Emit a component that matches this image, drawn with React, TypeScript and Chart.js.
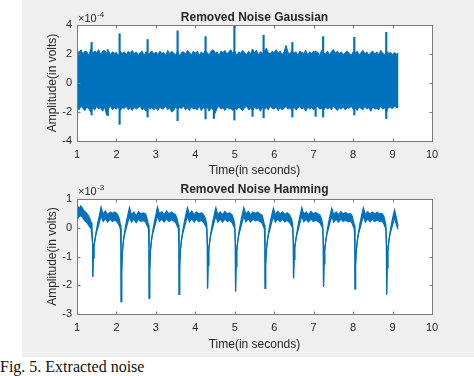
import React, { useEffect, useRef } from "react";
import { Chart, registerables } from "chart.js";

Chart.register(...registerables);

const BLUE = "#0072BD";
const FONT = '"Liberation Sans", Arial, Helvetica, sans-serif';
const TEXT = "#262626";

// ---------- axes ----------
const X_MIN = 1;
const X_MAX = 10;
const X_STEP = 1;
const G_Y_RANGE = [-4, 4]; // ×10^-4 V
const G_Y_STEP = 2;
const H_Y_RANGE = [-3, 1]; // ×10^-3 V
const H_Y_STEP = 1;

// ---------- Removed Noise Gaussian (×10^-4 V), envelope sampled every 0.05 s from 1.00 s ----------
const gUpper = [
  2.25, 2.1, 2.3, 2.0, 2.2, 2.15, 1.9, 2.35, 2.05, 2.2, 2.1, 2.3, 1.95, 2.2, 2.25, 2.05, 2.2, 1.95, 2.15, 2.05,
  2.1, 1.85, 2.2, 2.05, 2.15, 1.95, 2.2, 2.05, 2.25, 2.0, 2.15, 1.95, 2.1, 2.2, 1.9, 2.15, 1.9, 2.1, 2.2, 2.0,
  2.15, 1.95, 2.2, 2.05, 2.1, 1.9, 2.25, 2.0, 2.2, 2.05, 1.95, 2.2, 1.85, 2.1, 2.15, 2.0, 2.25, 2.1, 1.95, 2.2,
  2.05, 2.2, 1.9, 2.15, 2.0, 2.25, 2.1, 1.95, 2.2, 2.3, 2.05, 2.15, 1.9, 2.2, 2.1, 2.25, 2.0, 2.15, 2.3, 2.05,
  2.2, 1.9, 2.15, 2.05, 2.25, 2.1, 1.95, 2.2, 2.0, 2.3, 2.1, 2.25, 1.95, 2.15, 2.05, 2.2, 2.4, 2.1, 2.0, 2.2,
  2.1, 2.3, 2.05, 2.2, 1.95, 2.15, 2.6, 2.1, 2.0, 2.25, 2.05, 2.15, 1.9, 2.2, 2.1, 2.05, 2.25, 1.95, 2.15, 2.05,
  2.2, 2.0, 2.15, 1.9, 2.25, 2.1, 2.0, 2.2, 1.95, 2.15, 2.3, 2.05, 2.2, 2.0, 2.15, 1.95, 2.1, 2.2, 2.05, 1.9,
  2.15, 2.05, 2.2, 1.95, 2.1, 2.25, 2.0, 2.15, 1.9, 2.1, 2.2, 2.0, 2.15, 1.95, 2.25, 2.05, 1.95, 2.2, 2.05, 2.1,
  1.95, 2.1, 2.0, 2.05,
];
const gLower = [
  -1.7, -1.85, -1.6, -1.75, -1.9, -1.65, -1.8, -2.0, -1.7, -1.85, -1.6, -1.8, -1.7, -1.95, -1.65, -2.2, -1.75, -1.6, -1.85, -1.7,
  -1.8, -1.65, -1.9, -1.7, -1.75, -1.6, -1.85, -1.7, -1.9, -1.65, -1.8, -1.7, -1.6, -1.85, -1.75, -1.95, -1.65, -1.8, -1.7, -1.85,
  -1.7, -1.9, -1.65, -1.8, -1.75, -1.6, -1.85, -1.7, -2.0, -1.9, -1.65, -1.8, -1.7, -1.75, -1.6, -1.85, -1.7, -1.9, -1.65, -1.8,
  -1.75, -1.85, -1.6, -1.9, -1.7, -1.8, -1.65, -1.95, -1.7, -1.85, -2.1, -1.75, -1.6, -1.8, -1.7, -1.9, -1.65, -1.8, -1.75, -1.9,
  -1.7, -1.85, -1.65, -1.8, -1.9, -1.7, -1.6, -1.85, -1.75, -1.9, -1.65, -1.8, -1.7, -1.95, -1.65, -1.8, -1.7, -1.85, -1.6, -1.75,
  -1.8, -1.65, -1.9, -1.7, -1.85, -1.75, -1.6, -1.8, -1.7, -1.9, -1.65, -1.85, -1.75, -1.6, -1.8, -1.7, -1.95, -1.65, -1.8, -1.7,
  -1.85, -1.7, -1.6, -1.8, -1.75, -1.9, -1.65, -1.8, -1.7, -1.85, -1.6, -1.75, -1.9, -1.7, -1.8, -1.65, -1.85, -1.7, -1.75, -1.6,
  -1.8, -1.7, -1.9, -1.65, -1.75, -1.85, -1.6, -1.8, -1.7, -1.95, -1.65, -1.8, -1.75, -1.85, -1.6, -1.8, -1.7, -2.0, -1.65, -1.7,
  -1.75, -1.6, -1.7, -1.65,
];
const G_START = 1.0;
const G_STEP = 0.05;
// beat-synchronous spikes (×10^-4 V)
const gSpikeTime = [1.37, 1.78, 2.08, 2.79, 3.55, 4.26, 4.47, 4.99, 5.45, 5.73, 6.46, 7.05, 7.24, 8.03, 8.84];
const gSpikeHigh = [2.8, 2.3, 3.4, 3.0, 3.6, 3.2, 2.2, 3.95, 2.3, 3.3, 2.8, 2.2, 3.2, 3.15, 3.5];
const gSpikeLow = [-2.2, -2.25, -2.85, -2.35, -2.6, -2.48, -2.45, -2.55, -2.3, -2.4, -2.35, -2.3, -2.35, -2.2, -2.45];

// ---------- Removed Noise Hamming (×10^-3 V), upper/lower envelope ----------
const hTime = [
  1.0, 1.03, 1.06, 1.09, 1.13, 1.17, 1.21, 1.25, 1.29, 1.33, 1.36, 1.38,
  1.395, 1.4, 1.412, 1.43, 1.46, 1.49, 1.53, 1.57, 1.61, 1.66, 1.72, 1.78, 1.84, 1.9, 1.96, 2.02, 2.07, 2.1,
  2.115, 2.12, 2.132, 2.15, 2.18, 2.21, 2.25, 2.29, 2.33, 2.38, 2.44, 2.5, 2.56, 2.62, 2.68, 2.74, 2.78, 2.81,
  2.825, 2.83, 2.842, 2.86, 2.89, 2.92, 2.96, 3.0, 3.04, 3.09, 3.15, 3.21, 3.27, 3.33, 3.39, 3.45, 3.5, 3.54, 3.57,
  3.585, 3.59, 3.602, 3.62, 3.65, 3.68, 3.72, 3.76, 3.8, 3.85, 3.91, 3.97, 4.03, 4.09, 4.15, 4.21, 4.26, 4.29,
  4.305, 4.31, 4.322, 4.34, 4.37, 4.4, 4.44, 4.48, 4.52, 4.57, 4.63, 4.69, 4.75, 4.81, 4.87, 4.93, 4.97, 5.0,
  5.015, 5.02, 5.032, 5.05, 5.08, 5.11, 5.15, 5.19, 5.23, 5.28, 5.34, 5.4, 5.46, 5.52, 5.58, 5.64, 5.69, 5.72, 5.75,
  5.765, 5.77, 5.782, 5.8, 5.83, 5.86, 5.9, 5.94, 5.98, 6.03, 6.09, 6.15, 6.21, 6.27, 6.33, 6.39, 6.44, 6.47,
  6.485, 6.49, 6.502, 6.52, 6.55, 6.58, 6.62, 6.66, 6.7, 6.75, 6.81, 6.87, 6.93, 6.99, 7.05, 7.11, 7.16, 7.2, 7.23,
  7.245, 7.25, 7.262, 7.28, 7.31, 7.34, 7.38, 7.42, 7.46, 7.51, 7.57, 7.63, 7.69, 7.75, 7.81, 7.87, 7.93, 7.98, 8.0, 8.03,
  8.045, 8.05, 8.062, 8.08, 8.11, 8.14, 8.18, 8.22, 8.26, 8.31, 8.37, 8.43, 8.49, 8.55, 8.61, 8.67, 8.73, 8.78, 8.8, 8.83,
  8.845, 8.85, 8.862, 8.88, 8.91, 8.94, 8.98, 9.02, 9.05, 9.08, 9.11, 9.14,
];
const hUpper = [
  0.62, 0.72, 0.66, 0.76, 0.7, 0.6, 0.55, 0.5, 0.42, 0.3, 0.18, 0.08,
  -0.55, -1.7, -1.05, -0.65, -0.35, -0.1, 0.2, 0.45, 0.72, 0.48, 0.58, 0.45, 0.55, 0.5, 0.55, 0.48, 0.32, 0.1,
  -0.6, -2.57, -1.55, -0.85, -0.4, -0.12, 0.2, 0.45, 0.7, 0.45, 0.55, 0.42, 0.56, 0.48, 0.52, 0.48, 0.3, 0.1,
  -0.6, -2.45, -1.5, -0.82, -0.4, -0.12, 0.2, 0.45, 0.72, 0.48, 0.56, 0.45, 0.58, 0.48, 0.55, 0.5, 0.45, 0.3, 0.1,
  -0.6, -2.32, -1.4, -0.8, -0.4, -0.12, 0.2, 0.46, 0.7, 0.46, 0.58, 0.45, 0.55, 0.48, 0.52, 0.46, 0.3, 0.1,
  -0.6, -2.11, -1.3, -0.78, -0.4, -0.12, 0.2, 0.46, 0.7, 0.45, 0.55, 0.45, 0.57, 0.48, 0.52, 0.45, 0.3, 0.1,
  -0.6, -2.22, -1.35, -0.8, -0.4, -0.12, 0.2, 0.46, 0.7, 0.46, 0.57, 0.45, 0.55, 0.5, 0.54, 0.48, 0.44, 0.3, 0.1,
  -0.6, -2.11, -1.3, -0.78, -0.4, -0.12, 0.2, 0.46, 0.68, 0.45, 0.57, 0.47, 0.55, 0.46, 0.52, 0.45, 0.3, 0.1,
  -0.55, -1.76, -1.1, -0.7, -0.38, -0.12, 0.2, 0.46, 0.7, 0.46, 0.55, 0.45, 0.57, 0.48, 0.53, 0.48, 0.44, 0.3, 0.1,
  -0.6, -2.05, -1.25, -0.78, -0.4, -0.12, 0.2, 0.46, 0.68, 0.45, 0.55, 0.45, 0.56, 0.48, 0.53, 0.47, 0.5, 0.4, 0.28, 0.1,
  -0.6, -2.13, -1.3, -0.8, -0.4, -0.12, 0.2, 0.46, 0.7, 0.45, 0.56, 0.47, 0.55, 0.48, 0.54, 0.48, 0.5, 0.4, 0.28, 0.1,
  -0.6, -2.32, -1.4, -0.8, -0.4, -0.12, 0.2, 0.45, 0.62, 0.45, 0.25, 0.05,
];
const hLower = [
  0.2, 0.35, 0.4, 0.42, 0.38, 0.3, 0.22, 0.18, 0.1, 0.02, -0.05, -0.05,
  -0.55, -1.7, -1.05, -0.65, -0.38, -0.18, 0.0, 0.2, 0.42, 0.22, 0.32, 0.2, 0.3, 0.22, 0.28, 0.2, 0.08, -0.02,
  -0.6, -2.57, -1.55, -0.85, -0.43, -0.2, 0.0, 0.2, 0.4, 0.2, 0.3, 0.18, 0.3, 0.22, 0.25, 0.2, 0.06, -0.02,
  -0.6, -2.45, -1.5, -0.82, -0.43, -0.2, 0.0, 0.2, 0.42, 0.22, 0.3, 0.2, 0.32, 0.22, 0.28, 0.24, 0.18, 0.06, -0.02,
  -0.6, -2.32, -1.4, -0.8, -0.43, -0.2, 0.0, 0.21, 0.41, 0.21, 0.32, 0.2, 0.3, 0.22, 0.26, 0.19, 0.06, -0.02,
  -0.6, -2.11, -1.3, -0.78, -0.43, -0.2, 0.0, 0.21, 0.41, 0.2, 0.3, 0.2, 0.31, 0.22, 0.26, 0.18, 0.06, -0.02,
  -0.6, -2.22, -1.35, -0.8, -0.43, -0.2, 0.0, 0.21, 0.41, 0.21, 0.31, 0.2, 0.3, 0.24, 0.27, 0.22, 0.17, 0.06, -0.02,
  -0.6, -2.11, -1.3, -0.78, -0.43, -0.2, 0.0, 0.21, 0.4, 0.2, 0.31, 0.21, 0.3, 0.2, 0.26, 0.18, 0.06, -0.02,
  -0.55, -1.76, -1.1, -0.7, -0.41, -0.2, 0.0, 0.21, 0.41, 0.21, 0.3, 0.2, 0.31, 0.22, 0.27, 0.22, 0.17, 0.06, -0.02,
  -0.6, -2.05, -1.25, -0.78, -0.43, -0.2, 0.0, 0.21, 0.4, 0.2, 0.3, 0.2, 0.3, 0.22, 0.27, 0.21, 0.24, 0.14, 0.05, -0.02,
  -0.6, -2.13, -1.3, -0.8, -0.43, -0.2, 0.0, 0.21, 0.41, 0.2, 0.31, 0.21, 0.3, 0.22, 0.28, 0.22, 0.24, 0.14, 0.05, -0.02,
  -0.6, -2.32, -1.4, -0.8, -0.43, -0.2, 0.0, 0.2, 0.38, 0.2, 0.05, -0.05,
];

// ---------- texts ----------
const G_TITLE = "Removed Noise Gaussian";
const H_TITLE = "Removed Noise Hamming";
const X_LABEL = "Time(in seconds)";
const Y_LABEL = "Amplitude(in volts)";
const G_EXP = "-4";
const H_EXP = "-3";
const CAPTION = "Fig. 5. Extracted noise";

// ---------- plugin: MATLAB-like axes box, inward ticks, titles ----------
const decor = {
  id: "decor",
  beforeDraw(chart: any) {
    const { ctx, chartArea: a } = chart;
    ctx.save();
    ctx.fillStyle = "#ffffff";
    ctx.fillRect(a.left, a.top, a.right - a.left, a.bottom - a.top);
    ctx.restore();
  },
  afterDraw(chart: any, _args: any, opts: any) {
    const { ctx, chartArea: a, scales } = chart;
    const xs = scales.x;
    const ys = scales.y;
    const L = Math.round(a.left) + 0.5;
    const R = Math.round(a.right) + 0.5;
    const T = Math.round(a.top) + 0.5;
    const B = Math.round(a.bottom) + 0.5;
    ctx.save();
    ctx.strokeStyle = "#7a7a7a";
    ctx.lineWidth = 1;
    ctx.strokeRect(L, T, R - L, B - T);
    const tl = 3;
    ctx.beginPath();
    xs.ticks.forEach((t: any) => {
      const px = Math.round(xs.getPixelForValue(t.value)) + 0.5;
      ctx.moveTo(px, B);
      ctx.lineTo(px, B - tl);
      ctx.moveTo(px, T);
      ctx.lineTo(px, T + tl);
    });
    ys.ticks.forEach((t: any) => {
      const py = Math.round(ys.getPixelForValue(t.value)) + 0.5;
      ctx.moveTo(L, py);
      ctx.lineTo(L + tl, py);
      ctx.moveTo(R, py);
      ctx.lineTo(R - tl, py);
    });
    ctx.stroke();

    const cx = (a.left + a.right) / 2;
    const cy = (a.top + a.bottom) / 2;
    ctx.fillStyle = TEXT;
    ctx.textAlign = "center";
    ctx.textBaseline = "alphabetic";
    ctx.font = `bold 12px ${FONT}`;
    ctx.fillText(opts.title, cx, opts.titleY);
    ctx.font = `12px ${FONT}`;
    ctx.fillText(opts.xLabel, cx, opts.xLabelY);

    ctx.save();
    ctx.translate(opts.yLabelX, cy);
    ctx.rotate(-Math.PI / 2);
    ctx.textBaseline = "middle";
    ctx.fillText(opts.yLabel, 0, 0);
    ctx.restore();

    ctx.textAlign = "left";
    ctx.font = `11px ${FONT}`;
    const base = "\u00d710";
    ctx.fillText(base, a.left + 1, opts.expY);
    const w = ctx.measureText(base).width;
    ctx.font = `8px ${FONT}`;
    ctx.fillText(opts.exp, a.left + 1 + w + 0.5, opts.expY - 5);
    ctx.restore();
  },
};

function makeOptions(yRange: number[], yStep: number, xHeight: number, topPad: number, deco: any) {
  return {
    responsive: false,
    animation: false as const,
    devicePixelRatio: 1,
    events: [] as any[],
    layout: { padding: { top: topPad, right: 42, left: 0, bottom: 0 } },
    plugins: {
      legend: { display: false },
      tooltip: { enabled: false },
      title: { display: false },
      decor: deco,
    },
    scales: {
      x: {
        type: "linear" as const,
        min: X_MIN,
        max: X_MAX,
        offset: false,
        grid: { display: false, drawTicks: false, offset: false },
        border: { display: false },
        ticks: {
          stepSize: X_STEP,
          padding: 7,
          color: TEXT,
          font: { family: FONT, size: 11 },
          maxRotation: 0,
          autoSkip: false,
        },
        afterFit: (s: any) => {
          s.height = xHeight;
        },
      },
      y: {
        type: "linear" as const,
        min: yRange[0],
        max: yRange[1],
        grid: { display: false, drawTicks: false },
        border: { display: false },
        ticks: {
          stepSize: yStep,
          padding: 5,
          color: TEXT,
          font: { family: FONT, size: 11 },
        },
        afterFit: (s: any) => {
          s.width = 55;
        },
      },
    },
  };
}

export default function App() {
  const gRef = useRef<HTMLCanvasElement>(null);
  const hRef = useRef<HTMLCanvasElement>(null);

  useEffect(() => {
    const gTime = gUpper.map((_, i) => +(G_START + i * G_STEP).toFixed(2));
    const gUp = gUpper.map((v, i) => ({ x: gTime[i], y: v }));
    const gLo = gLower.map((v, i) => ({ x: gTime[i], y: v }));
    const gSp = gSpikeTime.map((t, i) => ({ x: t, y: [gSpikeLow[i], gSpikeHigh[i]] }));

    const c1 = new Chart(gRef.current as HTMLCanvasElement, {
      type: "line",
      data: {
        datasets: [
          {
            data: gUp,
            borderColor: BLUE,
            backgroundColor: BLUE,
            borderWidth: 1,
            pointRadius: 0,
            fill: "+1",
            tension: 0,
          } as any,
          {
            data: gLo,
            borderColor: BLUE,
            backgroundColor: BLUE,
            borderWidth: 1,
            pointRadius: 0,
            fill: false,
            tension: 0,
          },
          {
            type: "bar",
            data: gSp,
            backgroundColor: BLUE,
            borderWidth: 0,
            barThickness: 1.5,
            grouped: false,
          } as any,
        ],
      },
      options: makeOptions(G_Y_RANGE, G_Y_STEP, 39, 25, {
        title: G_TITLE,
        titleY: 20.5,
        xLabel: X_LABEL,
        xLabelY: 174,
        yLabel: Y_LABEL,
        yLabelX: 31,
        exp: G_EXP,
        expY: 21.5,
      }) as any,
      plugins: [decor as any],
    });

    const hUp = hUpper.map((v, i) => ({ x: hTime[i], y: v }));
    const hLo = hLower.map((v, i) => ({ x: hTime[i], y: v }));
    const c2 = new Chart(hRef.current as HTMLCanvasElement, {
      type: "line",
      data: {
        datasets: [
          {
            data: hUp,
            borderColor: BLUE,
            backgroundColor: BLUE,
            borderWidth: 1.2,
            pointRadius: 0,
            fill: "+1",
            tension: 0,
          } as any,
          {
            data: hLo,
            borderColor: BLUE,
            backgroundColor: BLUE,
            borderWidth: 1.2,
            pointRadius: 0,
            fill: false,
            tension: 0,
          },
        ],
      },
      options: makeOptions(H_Y_RANGE, H_Y_STEP, 43, 19, {
        title: H_TITLE,
        titleY: 12.7,
        xLabel: X_LABEL,
        xLabelY: 167.5,
        yLabel: Y_LABEL,
        yLabelX: 31,
        exp: H_EXP,
        expY: 14.7,
      }) as any,
      plugins: [decor as any],
    });

    return () => {
      c1.destroy();
      c2.destroy();
    };
  }, []);

  return (
    <div
      style={{
        position: "absolute",
        left: 0,
        top: 0,
        width: 474,
        height: 376,
        background: "#ffffff",
        overflow: "hidden",
      }}
    >
      <div
        style={{
          position: "absolute",
          left: 22,
          top: 0,
          width: 452,
          height: 357,
          background: "#efefef",
        }}
      />
      <canvas
        ref={gRef}
        width={452}
        height={180}
        style={{ position: "absolute", left: 22, top: 0, width: 452, height: 180 }}
      />
      <canvas
        ref={hRef}
        width={452}
        height={177}
        style={{ position: "absolute", left: 22, top: 180, width: 452, height: 177 }}
      />
      <div
        style={{
          position: "absolute",
          left: 0,
          top: 358,
          fontFamily: '"Liberation Serif", "Times New Roman", serif',
          fontSize: 16,
          lineHeight: "18px",
          color: "#111",
          whiteSpace: "nowrap",
        }}
      >
        {CAPTION}
      </div>
    </div>
  );
}
